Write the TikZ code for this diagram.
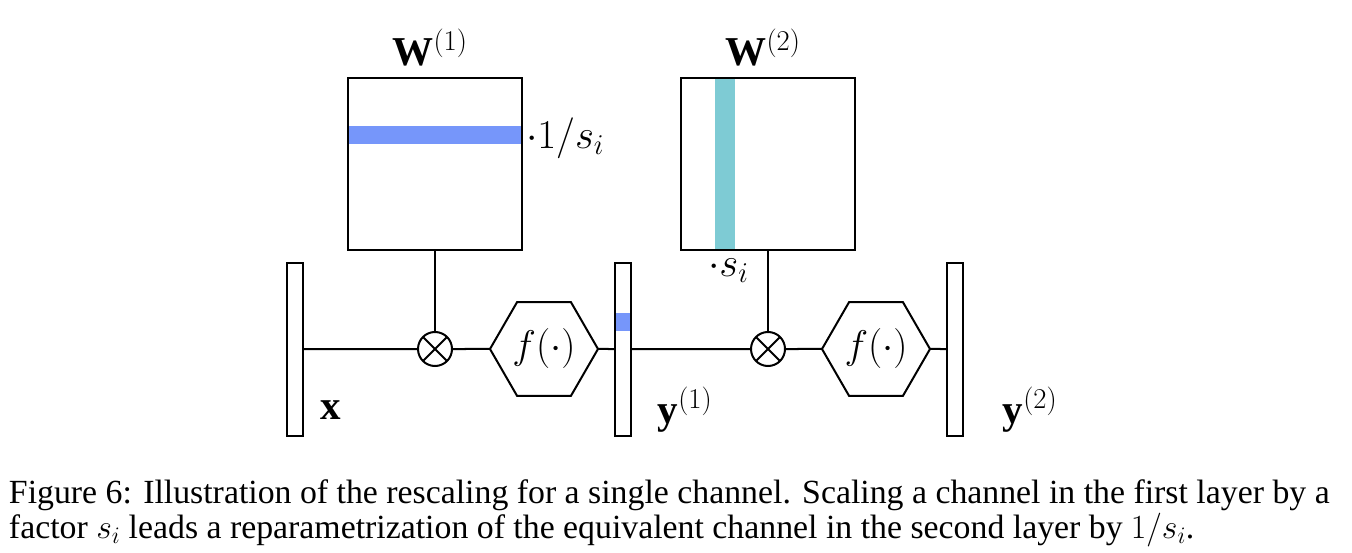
\RequirePackage{fix-cm}
\documentclass[tikz,border=0pt]{standalone}
\usepackage{amsmath}
\usepackage{fontspec}
\setmainfont{Liberation Serif}
\usetikzlibrary{shapes.geometric}
\begin{document}
\begin{tikzpicture}[x=1pt,y=-1pt,line width=2pt,
  bar/.style={draw,rectangle,minimum width=16pt,minimum height=173pt,inner sep=0,outer sep=0},
  mat/.style={draw,rectangle,minimum width=174pt,minimum height=172pt,inner sep=0,outer sep=0},
  mult/.style={draw,circle,minimum size=34pt,inner sep=0,outer sep=0},
  hex/.style={draw,regular polygon,regular polygon sides=6,shape border rotate=0,minimum size=108pt,inner sep=0,outer sep=0,font=\fontsize{40}{42}\selectfont},
  lbl/.style={font=\fontsize{41}{44}\selectfont,inner sep=0}]
\useasboundingbox (0,0) rectangle (1352,553);
\fill[fill={rgb,255:red,126;green,203;blue,212}] (715,78) rectangle (735,250);
\fill[fill={rgb,255:red,118;green,150;blue,250}] (348,126) rectangle (522,144);
\node[mat] (W1) at (435,164) {};
\node[mat] (W2) at (768,164) {};
\node[bar] (x) at (295,349.5) {};
\fill[fill={rgb,255:red,118;green,150;blue,250}] (614,313) rectangle (631,331);
\node[bar] (y1b) at (622.5,349.5) {};
\node[bar] (y2) at (954.5,349.5) {};
\node[mult] (m1) at (435,349) {};
\draw (m1.45)--(m1.225) (m1.135)--(m1.315);
\node[mult] (m2) at (768,349) {};
\draw (m2.45)--(m2.225) (m2.135)--(m2.315);
\node[hex] (h1) at (544,349) {$f(\cdot)$};
\node[hex] (h2) at (876,349) {$f(\cdot)$};
\draw (x.east |- m1) -- (m1) -- (h1) -- (y1b.west |- h1);
\draw (y1b.east |- m2) -- (m2) -- (h2) -- (y2.west |- h2);
\draw (W1.south) -- (m1);
\draw (W2.south) -- (m2);
\node[lbl] (lw1) at (430,48) {$\mathbf{W}^{(1)}$};
\node[lbl] (lw2) at (763,48) {$\mathbf{W}^{(2)}$};
\node[lbl,anchor=west] (ls1) at (525,138) {$\cdot 1/s_i$};
\node[lbl,anchor=west] (ls2) at (707,270) {$\cdot s_i$};
\node[lbl] (lx) at (331,410) {$\mathbf{x}$};
\node[lbl] (ly1) at (685,410) {$\mathbf{y}^{(1)}$};
\node[lbl] (ly2) at (1030,410) {$\mathbf{y}^{(2)}$};
\node[anchor=base west,inner sep=0,font=\fontsize{33.8}{38}\selectfont] (c1) at (8,503) {Figure 6: Illustration of the rescaling for a single channel. Scaling a channel in the first layer by a};
\node[anchor=base west,inner sep=0,font=\fontsize{33.8}{38}\selectfont] (c2) at (8,538) {factor $s_i$ leads a reparametrization of the equivalent channel in the second layer by $1/s_i$.};
\end{tikzpicture}
\end{document}
